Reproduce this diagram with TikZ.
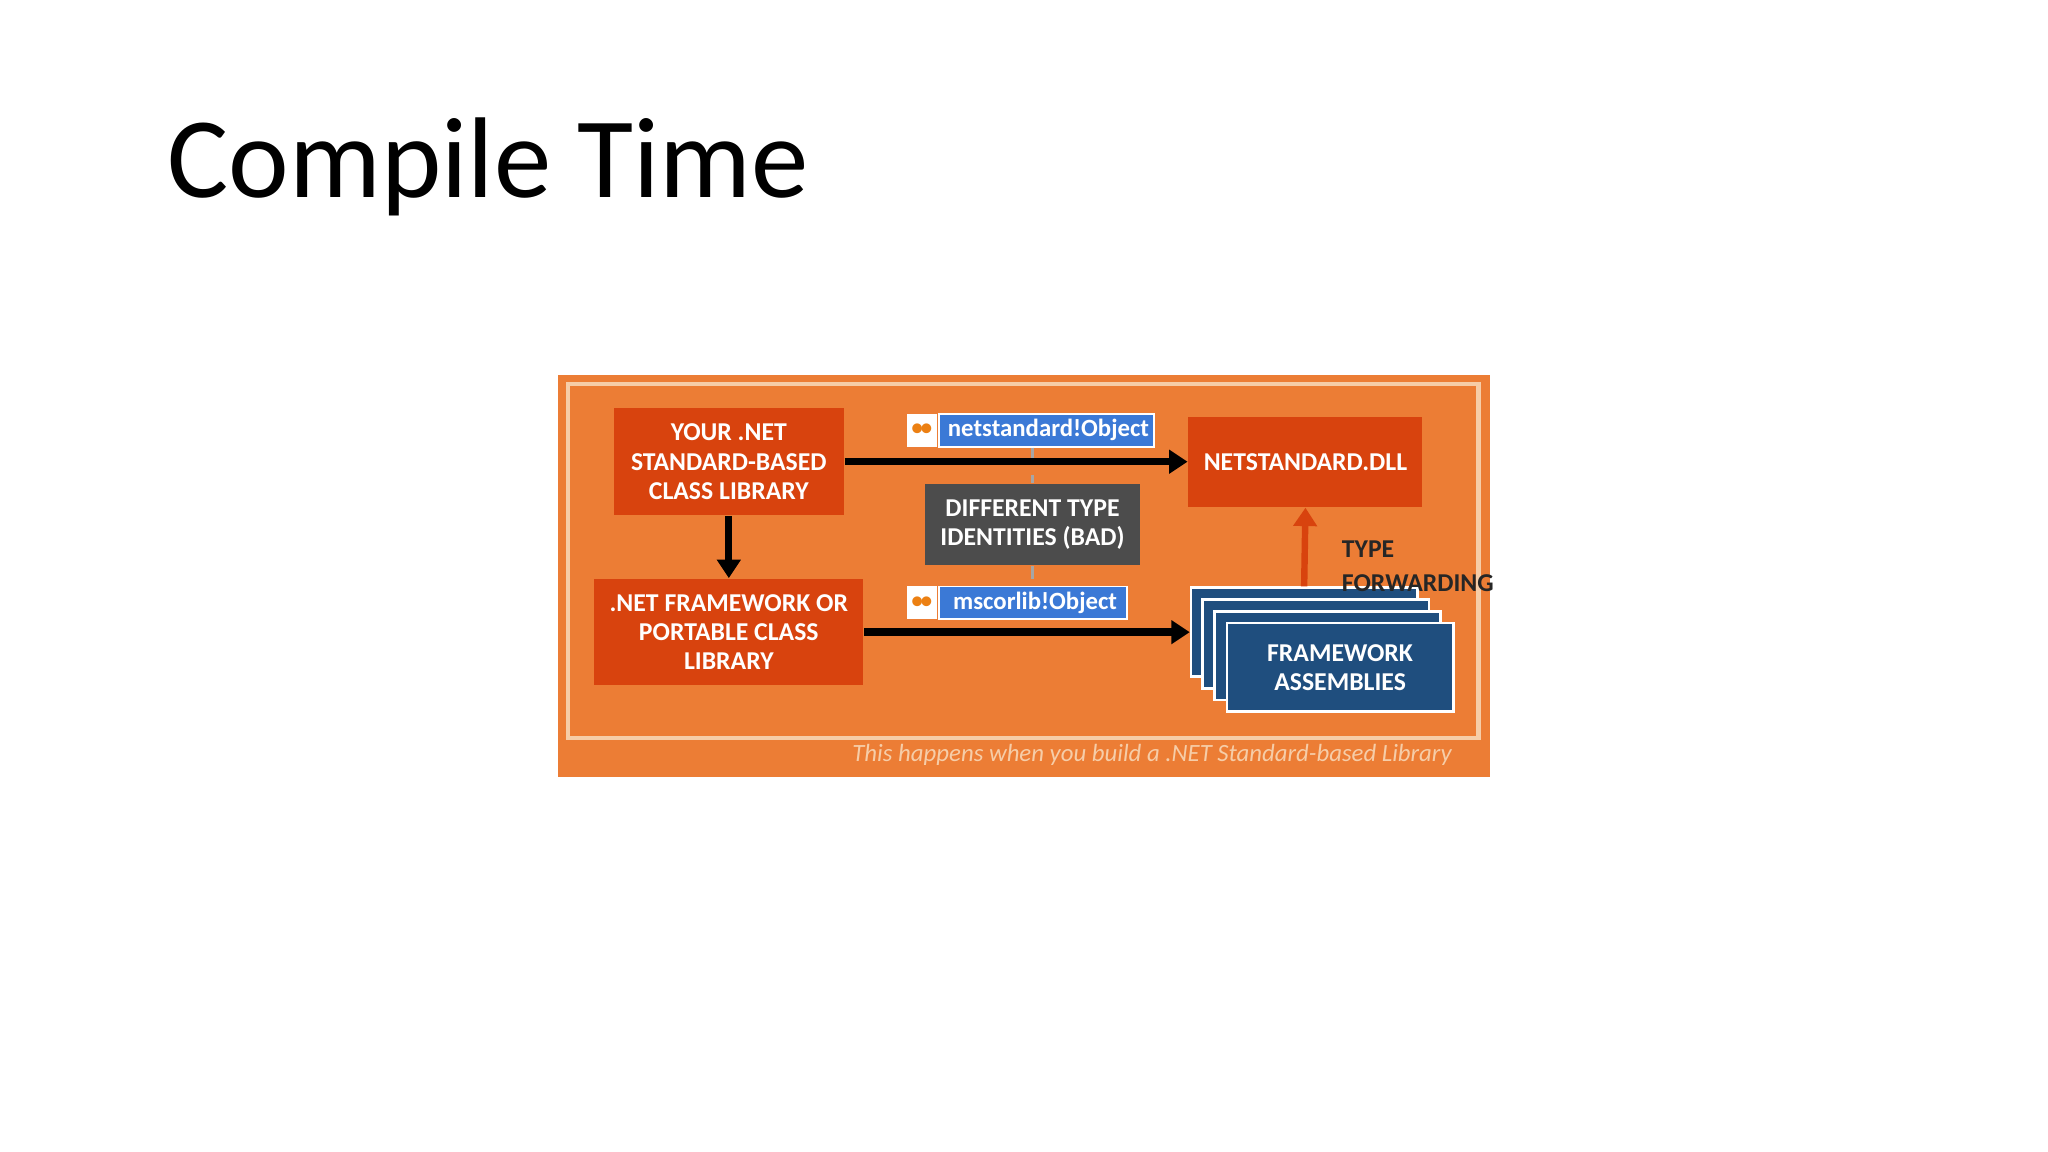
\documentclass[tikz,border=0pt]{standalone}
\usepackage{fontspec}
\setmainfont{Carlito}
\usetikzlibrary{positioning,arrows.meta}
\definecolor{bgorange}{HTML}{EC7D35}
\definecolor{boxred}{HTML}{D8430E}
\definecolor{asmblue}{HTML}{1F4E7E}
\definecolor{tagblue}{HTML}{3B79D6}
\definecolor{badgray}{HTML}{4C4C4C}
\definecolor{rimcol}{HTML}{F6CDA8}
\begin{document}
\begin{tikzpicture}[x=0.01cm,y=-0.01cm,
				redbox/.style={rectangle, fill=boxred, text=white, minimum width=1.76cm, minimum height=0.69cm, align=center, font=\fontsize{5.6}{6.4}\selectfont\bfseries},
				asmbox/.style={rectangle, fill=asmblue, draw=white, line width=0.6pt, minimum width=1.73cm, minimum height=0.68cm, align=center, text=white, font=\fontsize{5.6}{6.4}\selectfont\bfseries},
				tagbox/.style={rectangle, fill=tagblue, draw=white, line width=0.4pt, minimum width=1.44cm, minimum height=0.25cm, anchor=west, text=white, inner sep=1pt, font=\fontsize{5.4}{6}\selectfont\bfseries},
				iconbox/.style={rectangle, fill=white, minimum width=0.23cm, minimum height=0.25cm, inner sep=0pt, anchor=east, text=orange!70!brown, font=\fontsize{6}{6}\selectfont},
				flow/.style={-{Triangle[length=4pt,width=5pt]}, line width=1.6pt},
				]
				\useasboundingbox (0,0) rectangle (1568,882);
				%Title
				\node[anchor=west, font=\fontsize{25}{30}\selectfont] (title) at (116,128) {Compile Time};
				%Background
				\fill[bgorange] (427,287) rectangle (1141,595);
				\draw[rimcol, line width=1pt] (435,294) rectangle (1132,565);
				%Nodes
				\node[redbox] (lib) at (558,353.5) {YOUR .NET\\STANDARD-BASED\\CLASS LIBRARY};
				\node[redbox] (fw) at (558,484) {.NET FRAMEWORK OR\\PORTABLE CLASS\\LIBRARY};
				\node[redbox] (dll) at (999.5,353.5) {NETSTANDARD.DLL};
				\node[asmbox] (asm1) at (998.5,484) {};
				\node[asmbox] (asm2) at (1007.5,493) {};
				\node[asmbox] (asm3) at (1016.5,502) {};
				\node[asmbox] (asm4) at (1026,511) {FRAMEWORK\\ASSEMBLIES};
				\node[tagbox] (nsobj) at (718,329.5) {\hspace{1pt}netstandard!Object};
				\node[iconbox] (nsicon) at (nsobj.west) {\textbullet\kern-1pt\textbullet};
				\node[tagbox] (msobj) at (718,461.5) {\hspace{1pt}mscorlib!Object};
				\node[iconbox] (msicon) at (msobj.west) {\textbullet\kern-1pt\textbullet};
				\node[rectangle, fill=badgray, text=white, minimum width=1.45cm, minimum height=0.47cm, align=center, font=\fontsize{5.6}{6.4}\selectfont\bfseries] (bad) at (790.5,401.5) {DIFFERENT TYPE\\IDENTITIES (BAD)};
				\node[anchor=north west, align=left, text=black!85, font=\fontsize{5.6}{7.2}\selectfont\bfseries] (fwd) at (1015,402) {TYPE\\FORWARDING};
				\node[anchor=east, text=rimcol, font=\fontsize{5.4}{6}\selectfont\itshape] (note) at (1124,578) {This happens when you build a .NET Standard-based Library};
				
				%Lines
				\draw[gray!70, dashed, line width=0.6pt] (nsobj.south -| bad.north) -- (bad.north);
				\draw[gray!70, dashed, line width=0.6pt] (bad.south) -- (msobj.north -| bad.south);
				\draw[flow] (lib.east) -- (dll.west);
				\draw[flow] (fw.east) -- (asm1.west);
				\draw[flow] (lib.south) -- (fw.north);
				\draw[-{Triangle[length=4pt,width=5pt]}, boxred, line width=1.4pt] (asm1.north) -- (dll.south);
				
\end{tikzpicture}
\end{document}
